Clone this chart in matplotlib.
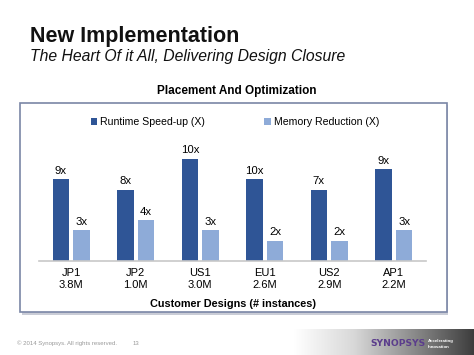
import matplotlib
matplotlib.use("Agg")
import matplotlib.pyplot as plt
import numpy as np
from matplotlib.patches import Rectangle
from matplotlib.colors import LinearSegmentedColormap

plt.rcParams['font.family'] = ['Liberation Sans', 'DejaVu Sans']

# data
designs = ["JP1", "JP2", "US1", "EU1", "US2", "AP1"]
instances = ["3.8M", "1.0M", "3.0M", "2.6M", "2.9M", "2.2M"]
runtime = [8, 7, 10, 8, 7, 9]
runtime_labels = ["9x", "8x", "10x", "10x", "7x", "9x"]
memory = [3, 4, 3, 2, 2, 3]
memory_labels = ["3x", "4x", "3x", "2x", "2x", "3x"]

dark = "#2F5596"
light = "#8EABD8"

fig = plt.figure(figsize=(4.74, 3.55), dpi=100)

# slide titles
fig.text(0.063, 0.882, "New Implementation", fontsize=15.5, fontweight="bold",
         color="#111111", ha="left", va="baseline")
fig.text(0.063, 0.828, "The Heart Of it All, Delivering Design Closure", fontsize=11.3,
         style="italic", color="#111111", ha="left", va="baseline")

# chart title
fig.text(0.5, 0.745, "Placement And Optimization", fontsize=8.5, fontweight="bold",
         ha="center", va="center")

# chart frame with a little shadow
fig.patches.append(Rectangle((0.046, 0.114), 0.900, 0.59, transform=fig.transFigure,
                             facecolor="#c9ccd6", edgecolor="none", zorder=0))
fig.patches.append(Rectangle((0.042, 0.12), 0.900, 0.59, transform=fig.transFigure,
                             facecolor="white", edgecolor="#7a86a6", linewidth=1.2, zorder=1))

ax = fig.add_axes([0.0823, 0.2648, 0.8165, 0.3448])
ax.set_zorder(2)
ax.patch.set_alpha(0)

x = np.arange(len(designs))
w = 0.255
off = 0.16
b1 = ax.bar(x - off, runtime, w, color=dark, label="Runtime Speed-up (X)")
b2 = ax.bar(x + off, memory, w, color=light, label="Memory Reduction (X)")

for rect, lab in zip(b1, runtime_labels):
    ax.text(rect.get_x() + rect.get_width() / 2, rect.get_height() + 0.35, lab,
            ha="center", va="bottom", fontsize=8.2)
for rect, lab in zip(b2, memory_labels):
    ax.text(rect.get_x() + rect.get_width() / 2, rect.get_height() + 0.35, lab,
            ha="center", va="bottom", fontsize=8.2)

ax.set_xlim(-0.5, len(designs) - 0.5)
ax.set_ylim(0, 12)
ax.set_yticks([])
ax.set_xticks(x)
ax.set_xticklabels([d + "\n" + n for d, n in zip(designs, instances)], fontsize=8,
                   linespacing=1.2)
ax.tick_params(axis="x", length=0, pad=5)
for s in ["top", "right", "left"]:
    ax.spines[s].set_visible(False)
ax.spines["bottom"].set_color("#c8c8c8")
ax.spines["bottom"].set_linewidth(1.2)

ax.set_xlabel("Customer Designs (# instances)", fontsize=7.8, fontweight="bold", labelpad=7)

fig.legend(handles=[b1, b2], loc="center", bbox_to_anchor=(0.496, 0.655), ncol=2,
           frameon=False, fontsize=7.6, handlelength=0.6, handleheight=0.6,
           handletextpad=0.3, columnspacing=5.6)

# footer
fig.text(0.035, 0.032, "\u00a9 2014 Synopsys. All rights reserved.", fontsize=4.3,
         color="#999999", ha="left", va="center")
fig.text(0.28, 0.032, "13", fontsize=4.3, color="#999999", ha="left", va="center")

footer_cmap = LinearSegmentedColormap.from_list("foot", ["#ffffff", "#d8d8d8", "#8a8a8a", "#3c3c3c"])
grad = np.linspace(0, 1, 256).reshape(1, -1)
gax = fig.add_axes([0.62, 0.0, 0.38, 0.072])
gax.imshow(grad, aspect="auto", cmap=footer_cmap, extent=[0, 1, 0, 1])
gax.axis("off")
fig.text(0.84, 0.032, "SYNOPSYS", fontsize=6.6, fontweight="bold", color="#5b3d8c",
         ha="center", va="center", family="Liberation Sans Narrow")
fig.text(0.903, 0.040, "Accelerating", fontsize=3.2, fontweight="bold", color="white",
         ha="left", va="center")
fig.text(0.903, 0.022, "Innovation", fontsize=3.2, fontweight="bold", color="white",
         ha="left", va="center")

fig.savefig("out.png", dpi=100)
